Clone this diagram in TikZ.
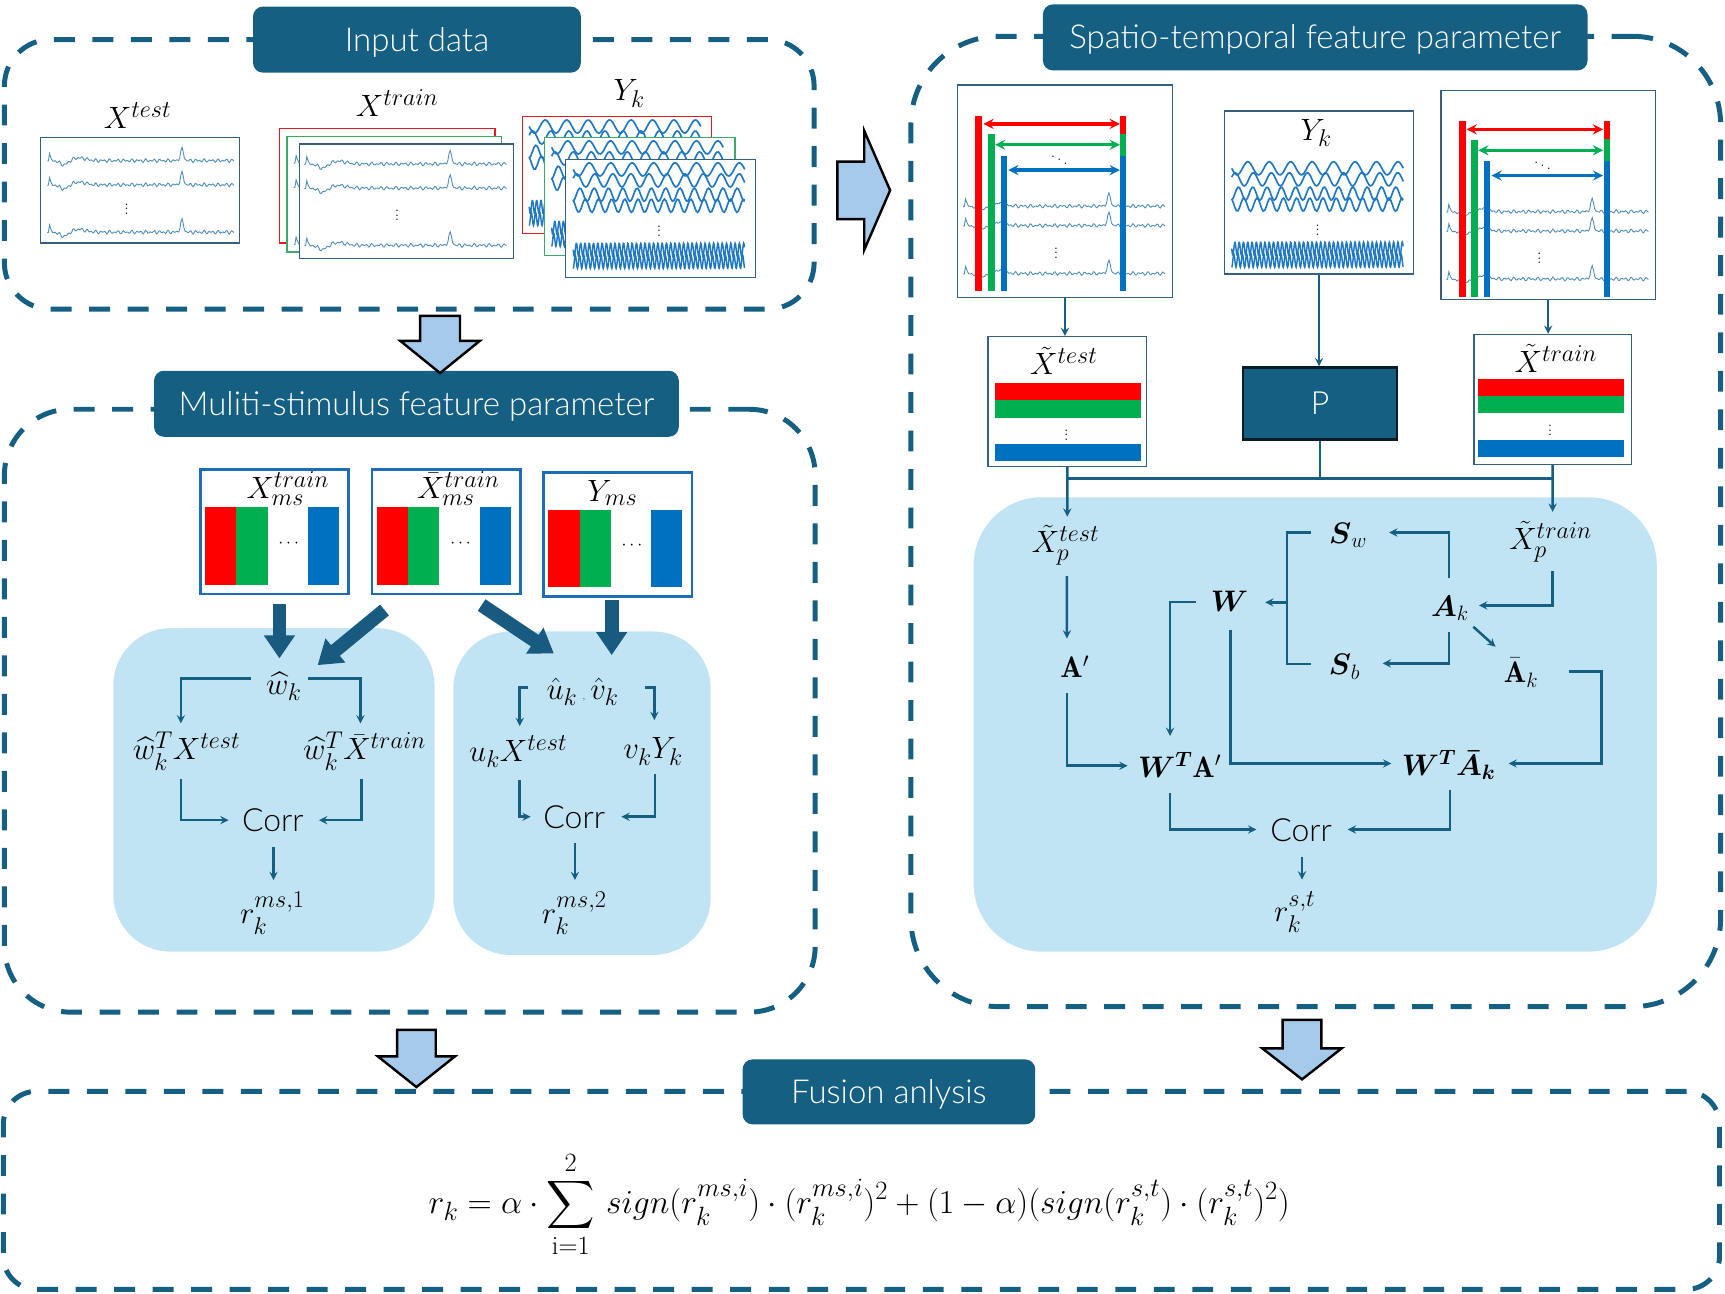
\documentclass[tikz,border=0pt]{standalone}
\usepackage{fix-cm}
\usepackage{amssymb,amsmath}
\usepackage{fontspec}
\usetikzlibrary{arrows.meta,shapes.arrows}
\newfontfamily\boxfont{Lato Light}
\DeclareMathSizes{28}{28}{22}{17}
\DeclareMathSizes{30.5}{30.5}{24}{18}

\definecolor{headblue}{HTML}{156082}
\definecolor{softblue}{HTML}{C1E4F5}
\definecolor{hollowblue}{HTML}{A6CAEC}
\definecolor{thickblue}{HTML}{185A80}
\definecolor{paneline}{HTML}{35607F}
\definecolor{boxblue}{HTML}{1C6DB5}
\definecolor{barred}{HTML}{FF0000}
\definecolor{bargreen}{HTML}{00B050}
\definecolor{barblue}{HTML}{0070C0}
\definecolor{eegblue}{HTML}{4F8DBB}
\definecolor{sineblue}{HTML}{1F78C1}
\definecolor{framered}{HTML}{E31B23}
\definecolor{framegreen}{HTML}{3DAA6D}

\tikzset{
    declare function={
        gauss(\t,\c,\s)=exp(-min(abs((\t-\c)/\s),3)*min(abs((\t-\c)/\s),3));
        eegy(\t)=-10.5*gauss(\t,0.72,0.012)-7*gauss(\t,0.012,0.005)+4*gauss(\t,0.09,0.03)-2.5*gauss(\t,0.17,0.05)+1.0*sin(14900*\t)+0.8*sin(9300*\t+40);
    },
    pics/eegline/.style={code={
        \draw[eegblue,line width=0.8pt] plot[domain=0:1,samples=170] ({#1*\x},{eegy(\x)});
    }},
    pics/sinewaves/.style={code={
        \foreach \yy/\cyc in {0/8,10/9.5,23/12,33/13}
            \draw[sineblue,line width=1.5pt] plot[domain=0:1,samples=110] ({156*\x},{\yy+6*sin(360*\cyc*\x+\yy*20)});
        \foreach \yy/\ph in {73/0,84/90}
            \draw[sineblue,line width=1.3pt] plot[domain=0:1,samples=400] ({156*\x},{\yy+6*sin(14400*\x+\ph)});
        \node[dotlabel] (vd) at (78,53) {$\vdots$};
    }},
    pics/colbars/.style={code={
        \fill[barred] (5.5,35) rectangle (34,105.7);
        \fill[bargreen] (34,35) rectangle (62.5,105.7);
        \fill[barblue] (99,35) rectangle (127.5,105.7);
        \node[dotlabel] (hd) at (83,68) {$\cdots$};
    }},
    pics/rowbars/.style={code={
        \fill[barred] (0,0) rectangle (132.5,15.6);
        \fill[bargreen] (0,15.6) rectangle (132.5,31.3);
        \fill[barblue] (0,55.5) rectangle (132.5,71);
        \node[dotlabel] (vd) at (65,44) {$\vdots$};
    }},
    pics/segments/.style={code={
        \foreach \yy in {110.8,128.4,172}
            \pic at (5.6,\yy) {eegline=184};
        \fill[barred] (16.6,28.4) rectangle (23.1,188);
        \fill[bargreen] (27.9,45.4) rectangle (34.3,188);
        \fill[barblue] (39.9,64.8) rectangle (45.4,188);
        \fill[barred] (148.4,28.4) rectangle (154,45);
        \fill[bargreen] (148.4,45) rectangle (154,64.8);
        \fill[barblue] (148.4,64.8) rectangle (154,188);
        \draw[<->,barred,line width=3pt] (24,36) -- (148,36);
        \draw[<->,bargreen,line width=3pt] (34.6,55) -- (148,55);
        \draw[<->,barblue,line width=3pt] (46.6,78) -- (148,78);
        \node[dotlabel] (dd) at (93,66) {$\ddots$};
        \node[dotlabel] (vd) at (90,150.5) {$\vdots$};
    }}
}

\begin{document}
\begin{tikzpicture}[
            x = 1pt, y = -1pt, % same numbers as the pixels of the sketch
            > = stealth, % arrow head style
            flow/.style = {draw=headblue, line width=2.3pt},
            thick arrow/.style = {draw=thickblue, line width=12.6pt, -{Triangle[length=21pt,width=27pt]}},
            dashframe/.style = {shape=rectangle, draw=headblue, line width=4.5pt, dash pattern=on 19pt off 16pt},
            headbox/.style = {shape=rectangle, fill=headblue, text=white, rounded corners=9pt, text height=24pt, text depth=3pt, font=\boxfont\fontsize{30}{35}\selectfont},
            softpanel/.style = {shape=rectangle, fill=softblue, rounded corners=52pt},
            wavebox/.style = {shape=rectangle, draw=paneline, fill=white, line width=1.2pt, inner sep=0pt},
            colbox/.style = {shape=rectangle, draw=boxblue, fill=white, line width=2.5pt, inner sep=0pt, minimum width=135, minimum height=113},
            hollow/.style = {shape=single arrow, draw=black, fill=hollowblue, line width=2.2pt, inner xsep=0pt, anchor=tail},
            mathlabel/.style = {inner sep=0pt, font=\fontsize{28}{32}\selectfont},
            boldlabel/.style = {inner sep=0pt, font=\fontsize{27}{32}\selectfont},
            corrlabel/.style = {inner sep=0pt, font=\boxfont\fontsize{29}{34}\selectfont},
            dotlabel/.style = {inner sep=0pt, font=\fontsize{16}{18}\selectfont}
        ]
\useasboundingbox (0,0) rectangle (1568,1176);

% dashed frames
\node[dashframe, rounded corners=42pt, minimum width=736, minimum height=245] (input_frame) at (372,158.5) {};
\node[dashframe, rounded corners=60pt, minimum width=737, minimum height=548] (ms_frame) at (372.5,646) {};
\node[dashframe, rounded corners=80pt, minimum width=736, minimum height=882] (st_frame) at (1196,474) {};
\node[dashframe, rounded corners=30pt, minimum width=1560, minimum height=180] (fusion_frame) at (783,1082) {};

% titles
\node[headbox, minimum width=298, minimum height=60] (input_head) at (379,36) {Input data};
\node[headbox, minimum width=495, minimum height=60] (st_head) at (1195.5,34) {Spatio-temporal feature parameter};
\node[headbox, minimum width=477, minimum height=60] (ms_head) at (378.5,367) {Muliti-stimulus feature parameter};
\node[headbox, minimum width=266, minimum height=59] (fusion_head) at (808,992.5) {Fusion anlysis};

% input data
\node[mathlabel] (X_test_label) at (125,105) {$X^{test}$};
\node[mathlabel] (X_train_label) at (361,94) {$X^{train}$};
\node[mathlabel] (Y_k_label) at (572,85) {$Y_k$};
\node[wavebox, minimum width=181, minimum height=96] (X_test_wave) at (127.5,173) {};
\foreach \yy in {146,168,211}
    \pic at (43,\yy) {eegline=170};
\node[dotlabel] (X_test_dots) at (115,187) {$\vdots$};
\node[wavebox, draw=framered, minimum width=196, minimum height=104] (X_train_red) at (352,169) {};
\node[wavebox, draw=framegreen, minimum width=195, minimum height=105] (X_train_green) at (358.5,176.5) {};
\foreach \yy in {148,170,222}
    \pic at (267,\yy) {eegline=184};
\node[wavebox, minimum width=195, minimum height=104] (X_train_wave) at (369.5,183) {};
\foreach \yy in {149,171,223}
    \pic at (276.7,\yy) {eegline=184};
\node[dotlabel] (X_train_dots) at (361,193) {$\vdots$};
\node[wavebox, draw=framered, minimum width=172, minimum height=106] (Y_red) at (561,159) {};
\pic at (481,115) {sinewaves};
\node[wavebox, draw=framegreen, minimum width=173, minimum height=107] (Y_green) at (581.5,178.5) {};
\pic at (501.4,134) {sinewaves};
\node[wavebox, minimum width=173, minimum height=107] (Y_wave) at (600.5,198.5) {};
\pic at (521,154) {sinewaves};

% big hollow arrows
\node[hollow, rotate=-90, minimum height=52, inner ysep=17, single arrow head extend=18, single arrow tip angle=102] (arrow_ms) at (400,286) {};
\node[hollow, minimum height=48, inner ysep=25, single arrow head extend=28, single arrow tip angle=133] (arrow_st) at (760,173) {};
\node[hollow, rotate=-90, minimum height=52, inner ysep=16.5, single arrow head extend=17.5, single arrow tip angle=103] (arrow_fl) at (378.5,935) {};
\node[hollow, rotate=-90, minimum height=54, inner ysep=16.5, single arrow head extend=18.5, single arrow tip angle=104] (arrow_fr) at (1183.5,926) {};

% multi stimulus part
\node[softpanel, minimum width=292, minimum height=294] (ms_left) at (249,718) {};
\node[softpanel, minimum width=234, minimum height=294] (ms_right) at (529,721) {};
\node[colbox] (X_ms) at (249.5,483.5) {};
\pic at (X_ms.north west) {colbars};
\node[mathlabel] (X_ms_label) at (261.6,444) {$X_{ms}^{train}$};
\node[colbox] (Xbar_ms) at (405.7,483.5) {};
\pic at (Xbar_ms.north west) {colbars};
\node[mathlabel] (Xbar_ms_label) at (416.7,444) {$\bar{X}_{ms}^{train}$};
\node[colbox] (Y_ms) at (561.5,486) {};
\pic at (Y_ms.north west) {colbars};
\node[mathlabel] (Y_ms_label) at (556.6,448) {$Y_{ms}$};

\node[mathlabel] (w_hat) at (258,624) {$\widehat{w}_k$};
\node[mathlabel] (w_X) at (169.5,683) {$\widehat{w}_k^{T}X^{test}$};
\node[mathlabel] (w_Xbar) at (331.3,683) {$\widehat{w}_k^{T}\bar{X}^{train}$};
\node[corrlabel] (corr_a) at (248,746) {Corr};
\node[mathlabel] (r_a) at (247.5,830) {$r_k^{ms,1}$};
\node[mathlabel] (uv_hat) at (529.5,629) {$\hat{u}_k$\,{\fontsize{8}{8}\selectfont,}\,$\hat{v}_k$};
\node[mathlabel] (u_X) at (471,683) {$u_kX^{test}$};
\node[mathlabel] (v_Y) at (593.7,683) {$v_kY_k$};
\node[corrlabel] (corr_b) at (522,742.5) {Corr};
\node[mathlabel] (r_b) at (522,830) {$r_k^{ms,2}$};

\draw[thick arrow] ([shift={(4.5,65.5)}]X_ms.center) -- ([shift={(-4,-25.5)}]w_hat.center);
\draw[thick arrow] ([shift={(-56.2,71)}]Xbar_ms.center) -- ([shift={(30.7,-19.4)}]w_hat.center);
\draw[thick arrow] ([shift={(32.1,66.5)}]Xbar_ms.center) -- ([shift={(-26,-35)}]uv_hat.center);
\draw[thick arrow] ([shift={(-5.5,59.5)}]Y_ms.center) -- ([shift={(26.5,-33.5)}]uv_hat.center);

\draw[flow,->] ([shift={(-30,-7.3)}]w_hat.center) -| ([shift={(-5.1,-25.4)}]w_X.center);
\draw[flow,->] ([shift={(22,-7.3)}]w_hat.center) -| ([shift={(-3.7,-25.4)}]w_Xbar.center);
\draw[flow,->] ([shift={(-5.1,25.5)}]w_X.center) |- ([shift={(-40.2,-0.5)}]corr_a.center);
\draw[flow,->] ([shift={(-2.9,25.5)}]w_Xbar.center) |- ([shift={(42,-0.5)}]corr_a.center);
\draw[flow,->] ([shift={(0.6,24)}]corr_a.center) -- ([shift={(1.1,-30)}]r_a.center);
\draw[flow,->] ([shift={(-49.7,-4)}]uv_hat.center) -| ([shift={(1.4,-23)}]u_X.center);
\draw[flow,->] ([shift={(56.8,-4)}]uv_hat.center) -| ([shift={(1.1,-28.5)}]v_Y.center);
\draw[flow,->] ([shift={(1.4,26)}]u_X.center) |- ([shift={(-39.6,-0.1)}]corr_b.center);
\draw[flow,->] ([shift={(1.8,20.6)}]v_Y.center) |- ([shift={(42.8,-0.1)}]corr_b.center);
\draw[flow,->] ([shift={(0.6,23.5)}]corr_b.center) -- ([shift={(0.6,-30)}]r_b.center);

% spatio temporal part
\node[wavebox, minimum width=195, minimum height=193] (seg_test) at (968,173.7) {};
\pic at (seg_test.north west) {segments};
\node[wavebox, minimum width=172, minimum height=148] (Y_seg) at (1199,175) {};
\node[mathlabel] (Y_seg_label) at (1196.4,121) {$Y_k$};
\pic at (1119.6,153) {sinewaves};
\node[wavebox, minimum width=195, minimum height=190] (seg_train) at (1407.25,177.2) {};
\pic at (seg_train.north west) {segments};

\node[wavebox, minimum width=144, minimum height=118] (Xt_test) at (970.2,365) {};
\pic at ([shift={(6.7,43)}]Xt_test.north west) {rowbars};
\node[mathlabel] (Xt_test_label) at (967,328) {$\tilde{X}^{test}$};
\node[wavebox, minimum width=143, minimum height=118] (Xt_train) at (1411.3,363) {};
\pic at ([shift={(4.7,41)}]Xt_train.north west) {rowbars};
\node[mathlabel] (Xt_train_label) at (1414.3,325.7) {$\tilde{X}^{train}$};
\node[shape=rectangle, fill=headblue, draw=black!70!headblue, line width=2.5pt, text=white, minimum width=140, minimum height=65, font=\boxfont\fontsize{29}{34}\selectfont] (P) at (1199.9,366.7) {P};
\coordinate (bus_left) at (970.2,434.8);
\coordinate (bus_right) at (1411.3,434.8);

\node[softpanel, rounded corners=62pt, minimum width=621, minimum height=413] (st_panel) at (1195.5,658.5) {};
\node[mathlabel] (Xp_test) at (968.6,495.5) {$\tilde{X}_p^{test}$};
\node[mathlabel] (Xp_train) at (1409.4,492.5) {$\tilde{X}_p^{train}$};
\node[boldlabel] (S_w) at (1225.3,486.4) {$\boldsymbol{S}_w$};
\node[boldlabel] (S_b) at (1222.1,606) {$\boldsymbol{S}_b$};
\node[boldlabel] (W) at (1117.6,547) {$\boldsymbol{W}$};
\node[boldlabel] (A_k) at (1318,553) {$\boldsymbol{A}_k$};
\node[boldlabel] (Abar_k) at (1382.6,611.6) {$\bar{\mathbf{A}}_k$};
\node[boldlabel] (A_p) at (976.9,606) {$\mathbf{A}'$};
\node[boldlabel] (W_A) at (1072.3,695.5) {$\boldsymbol{W^T}\mathbf{A}'$};
\node[boldlabel] (W_Ak) at (1316.8,695.5) {$\boldsymbol{W^T\bar{A}_k}$};
\node[corrlabel] (corr_c) at (1182.7,754.6) {Corr};
\node[mathlabel] (r_c) at (1176.8,828.8) {$r_k^{s,t}$};

\draw[flow,->] (seg_test.south) -- (seg_test.south |- Xt_test.north);
\draw[flow,->] (Y_seg.south) -- (Y_seg.south |- P.north);
\draw[flow,->] (seg_train.south) -- (seg_train.south |- Xt_train.north);
\draw[flow] (bus_left) -- (bus_right);
\draw[flow] (P.south) -- (P.south |- bus_left);
\draw[flow,->] (Xt_test.south) -- ([shift={(1.6,-25.8)}]Xp_test.center);
\draw[flow,->] (Xt_train.south) -- ([shift={(1.9,-27.3)}]Xp_train.center);
\draw[flow,->] ([shift={(1.2,28.2)}]Xp_test.center) -- ([shift={(-7.1,-25.6)}]A_p.center);
\draw[flow,->] ([shift={(-7.1,24.3)}]A_p.center) |- ([shift={(-47.3,0.5)}]W_A.center);
\draw[flow,->] ([shift={(-30.3,0)}]W.center) -| ([shift={(-8.7,-26.5)}]W_A.center);
\draw[flow,->] ([shift={(0.8,25.2)}]W.center) |- ([shift={(-52.1,-1.5)}]W_Ak.center);
\draw[flow] ([shift={(-33.9,-2.4)}]S_w.center) -- ++(-21.4,0) |- ([shift={(-30.7,-2.3)}]S_b.center);
\draw[flow,->] ([shift={(52.4,0.6)}]W.center) -- ([shift={(32.4,0.6)}]W.center);
\draw[flow,->] ([shift={(-0.8,-27.2)}]A_k.center) |- ([shift={(37.4,-2.4)}]S_w.center);
\draw[flow,->] ([shift={(-0.8,21.9)}]A_k.center) |- ([shift={(34.7,-3)}]S_b.center);
\draw[flow,->] ([shift={(2,26.3)}]Xp_train.center) |- ([shift={(26.4,-2.7)}]A_k.center);
\draw[flow,->] ([shift={(21.2,16.7)}]A_k.center) -- ([shift={(-23.2,-23.7)}]Abar_k.center);
\draw[flow,->] ([shift={(43.4,-1)}]Abar_k.center) -- ++(29.6,0) |- ([shift={(54.4,-1.5)}]W_Ak.center);
\draw[flow,->] ([shift={(-8.7,25.7)}]W_A.center) |- ([shift={(-40.7,-0.6)}]corr_c.center);
\draw[flow,->] ([shift={(1.2,22.7)}]W_Ak.center) |- ([shift={(42.3,-0.6)}]corr_c.center);
\draw[flow,->] ([shift={(0.8,24.2)}]corr_c.center) -- ([shift={(6.7,-29.3)}]r_c.center);

% fusion formula
\node[mathlabel, font=\fontsize{30.5}{36}\selectfont] (fusion_formula) at (781,1095) {$\displaystyle r_k=\alpha\cdot\sum_{\mathrm{i}=1}^{2}\,sign(r_k^{ms,i})\cdot(r_k^{ms,i})^2+(1-\alpha)(sign(r_k^{s,t})\cdot(r_k^{s,t})^2)$};
\end{tikzpicture}
\end{document}
